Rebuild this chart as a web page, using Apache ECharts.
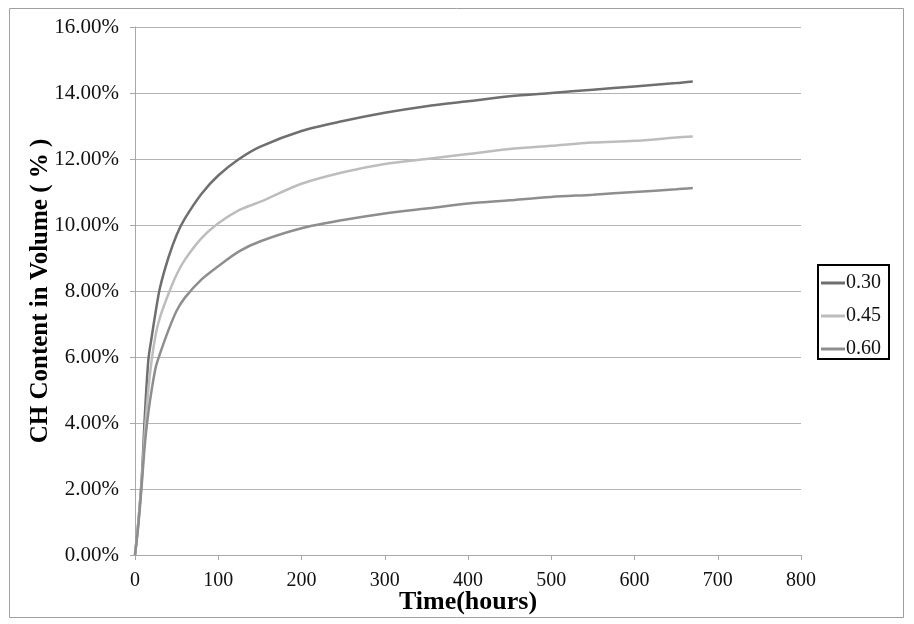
<!DOCTYPE html>
<html>
<head>
<meta charset="utf-8">
<script src="https://cdn.jsdelivr.net/npm/echarts@6/dist/echarts.min.js"></script>
<style>html,body{margin:0;padding:0;background:#fff}#c{width:914px;height:624px}</style>
</head>
<body>
<div id="c"></div>
<script>
const hours = [0, 4, 8, 12, 16, 20, 25, 30, 40, 50, 60, 80, 100, 125, 150, 200, 250, 300, 350, 400, 450, 500, 550, 600, 650, 670];
const s030 = [0, 1.0, 2.3, 4.3, 5.9, 6.6, 7.4, 8.1, 9.0, 9.7, 10.2, 10.95, 11.5, 12.0, 12.37, 12.85, 13.15, 13.4, 13.6, 13.75, 13.9, 14.0, 14.1, 14.2, 14.3, 14.35];
const s045 = [0, 1.0, 2.2, 3.8, 5.0, 5.9, 6.7, 7.2, 7.9, 8.5, 8.95, 9.6, 10.05, 10.45, 10.7, 11.25, 11.6, 11.85, 12.0, 12.15, 12.3, 12.4, 12.5, 12.55, 12.65, 12.68];
const s060 = [0, 0.9, 2.1, 3.4, 4.3, 5.0, 5.7, 6.1, 6.8, 7.4, 7.8, 8.35, 8.75, 9.2, 9.5, 9.9, 10.15, 10.35, 10.5, 10.65, 10.75, 10.85, 10.92, 11.0, 11.08, 11.12];
const seriesNames = ['0.30', '0.45', '0.60'];
const xTicks = [0, 100, 200, 300, 400, 500, 600, 700, 800];
const yTicks = [0, 2, 4, 6, 8, 10, 12, 14, 16];

const colors = ['#6f6f6f', '#bdbdbd', '#8e8e8e'];
const font = 'Liberation Serif, Times New Roman, serif';
const pair = arr => hours.map((h, i) => [h, arr[i]]);
const data = [s030, s045, s060];

const chart = echarts.init(document.getElementById('c'), null, {renderer: 'canvas'});
chart.setOption({
  animation: false,
  backgroundColor: '#fff',
  grid: {left: 135, right: 113, top: 27, bottom: 69, containLabel: false},
  xAxis: {
    type: 'value', min: xTicks[0], max: xTicks[xTicks.length - 1], interval: 100,
    name: 'Time(hours)', nameLocation: 'middle', nameGap: 34, nameMoveOverlap: false,
    nameTextStyle: {fontFamily: font, fontWeight: 'bold', fontSize: 26, color: '#000'},
    axisLine: {lineStyle: {color: '#a8a8a8', width: 1}},
    axisTick: {show: true, inside: false, length: 5, lineStyle: {color: '#a8a8a8'}},
    axisLabel: {fontFamily: font, fontSize: 20, color: '#111', margin: 16},
    splitLine: {show: false}
  },
  yAxis: {
    type: 'value', min: yTicks[0], max: yTicks[yTicks.length - 1], interval: 2,
    name: 'CH Content in Volume ( % )', nameLocation: 'middle', nameGap: 82, nameMoveOverlap: false,
    nameTextStyle: {fontFamily: font, fontWeight: 'bold', fontSize: 25, color: '#000'},
    axisLine: {show: true, lineStyle: {color: '#a8a8a8', width: 1}},
    axisTick: {show: true, inside: false, length: 5, lineStyle: {color: '#a8a8a8'}},
    axisLabel: {fontFamily: font, fontSize: 21, color: '#111', margin: 16,
      formatter: v => v.toFixed(2) + '%'},
    splitLine: {show: true, lineStyle: {color: '#b4b4b4', width: 1}}
  },
  legend: {
    orient: 'vertical', left: 818, top: 265,
    data: seriesNames,
    icon: 'rect', itemWidth: 24, itemHeight: 3, itemGap: 13,
    padding: [8, 8, 0, 3],
    borderColor: '#000', borderWidth: 2,
    textStyle: {fontFamily: font, fontSize: 20, color: '#111', padding: [0, 0, 0, -4]}
  },
  graphic: [{
    type: 'rect', shape: {x: 9.5, y: 8.5, width: 894, height: 609},
    style: {fill: 'none', stroke: '#a0a0a0', lineWidth: 1}, z: -1, silent: true
  }],
  series: seriesNames.map((n, i) => ({
    name: n, type: 'line', data: pair(data[i]), smooth: 0.3,
    showSymbol: false, symbol: 'none',
    lineStyle: {color: colors[i], width: 2.5}, itemStyle: {color: colors[i]}
  }))
});
</script>
</body>
</html>
